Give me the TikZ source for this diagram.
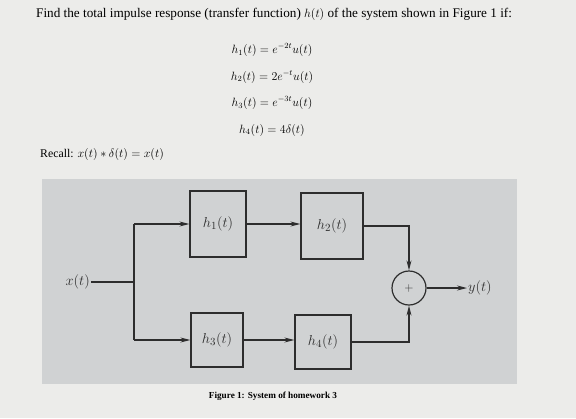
\documentclass[tikz,border=0pt]{standalone}
\usepackage{fontspec}
\setmainfont{Liberation Serif}
\usetikzlibrary{arrows.meta,positioning}
\definecolor{pagebg}{RGB}{236,236,234}
\definecolor{panelbg}{RGB}{208,210,211}
\definecolor{ink}{RGB}{45,45,45}
\tikzset{
  blk/.style={draw=ink, line width=1.2pt, fill=panelbg, inner sep=0pt, font=\fontsize{15}{18}\selectfont, text=ink},
  wire/.style={draw=ink, line width=1.2pt},
  arr/.style={wire, -{Stealth[length=10pt,width=5pt]}},
  eqn/.style={font=\fontsize{11.5}{13}\selectfont, text=black, inner sep=0pt},
  lbl/.style={text=ink, font=\fontsize{15}{18}\selectfont, inner sep=1pt},
}
\begin{document}
\begin{tikzpicture}[x=1pt,y=-1pt]
\useasboundingbox (0,0) rectangle (576,418);
\fill[pagebg] (0,0) rectangle (576,418);
% header text
\node[eqn, anchor=west, font=\fontsize{13.2}{15}\selectfont] (q) at (36,14) {Find the total impulse response (transfer function) $h(t)$ of the system shown in Figure 1 if:};
\node[eqn] (e1) at (272,50) {$h_1(t) = e^{-2t}u(t)$};
\node[eqn] (e2) at (272,77) {$h_2(t) = 2e^{-t}u(t)$};
\node[eqn] (e3) at (272,103) {$h_3(t) = e^{-3t}u(t)$};
\node[eqn] (e4) at (272,130) {$h_4(t) = 4\delta(t)$};
\node[eqn, anchor=west, font=\fontsize{11.8}{13}\selectfont] (rc) at (40,154) {Recall: $x(t) * \delta(t) = x(t)$};
% panel
\fill[panelbg] (42,179) rectangle (517,384);
% blocks
\node[blk, minimum width=56pt, minimum height=66pt] (h1) at (218,224) {$h_1(t)$};
\node[blk, minimum width=62pt, minimum height=66pt] (h2) at (332,226) {$h_2(t)$};
\node[blk, minimum width=52pt, minimum height=54pt] (h3) at (217,340) {$h_3(t)$};
\node[blk, minimum width=56pt, minimum height=54pt] (h4) at (323,342) {$h_4(t)$};
\node[blk, circle, minimum size=34pt, font=\fontsize{13}{15}\selectfont] (sum) at (409,288) {$+$};
\node[lbl, anchor=east] (x) at (91,282) {$x(t)$};
\node[lbl, anchor=west] (y) at (467,288) {$y(t)$};
\coordinate (sp) at (134,282);
\coordinate (spt) at (134,224);
\coordinate (spb) at (134,340);
% wires
\draw[wire] (x.east) -- (sp);
\draw[wire] (spt) -- (spb);
\draw[arr] (spt) -- (h1.west);
\draw[arr] (spb) -- (h3.west);
\draw[arr] (h1.east) -- (h1.east -| h2.west);
\draw[arr] (h3.east) -- (h3.east -| h4.west);
\draw[arr] (h2.east) -| (sum.north);
\draw[arr] (h4.east) -| (sum.south);
\draw[arr] (sum.east) -- (y.west);
% caption
\node[font=\bfseries\fontsize{9.2}{11}\selectfont, text=black] (cap) at (273,396) {Figure 1: System of homework 3};
\end{tikzpicture}
\end{document}
